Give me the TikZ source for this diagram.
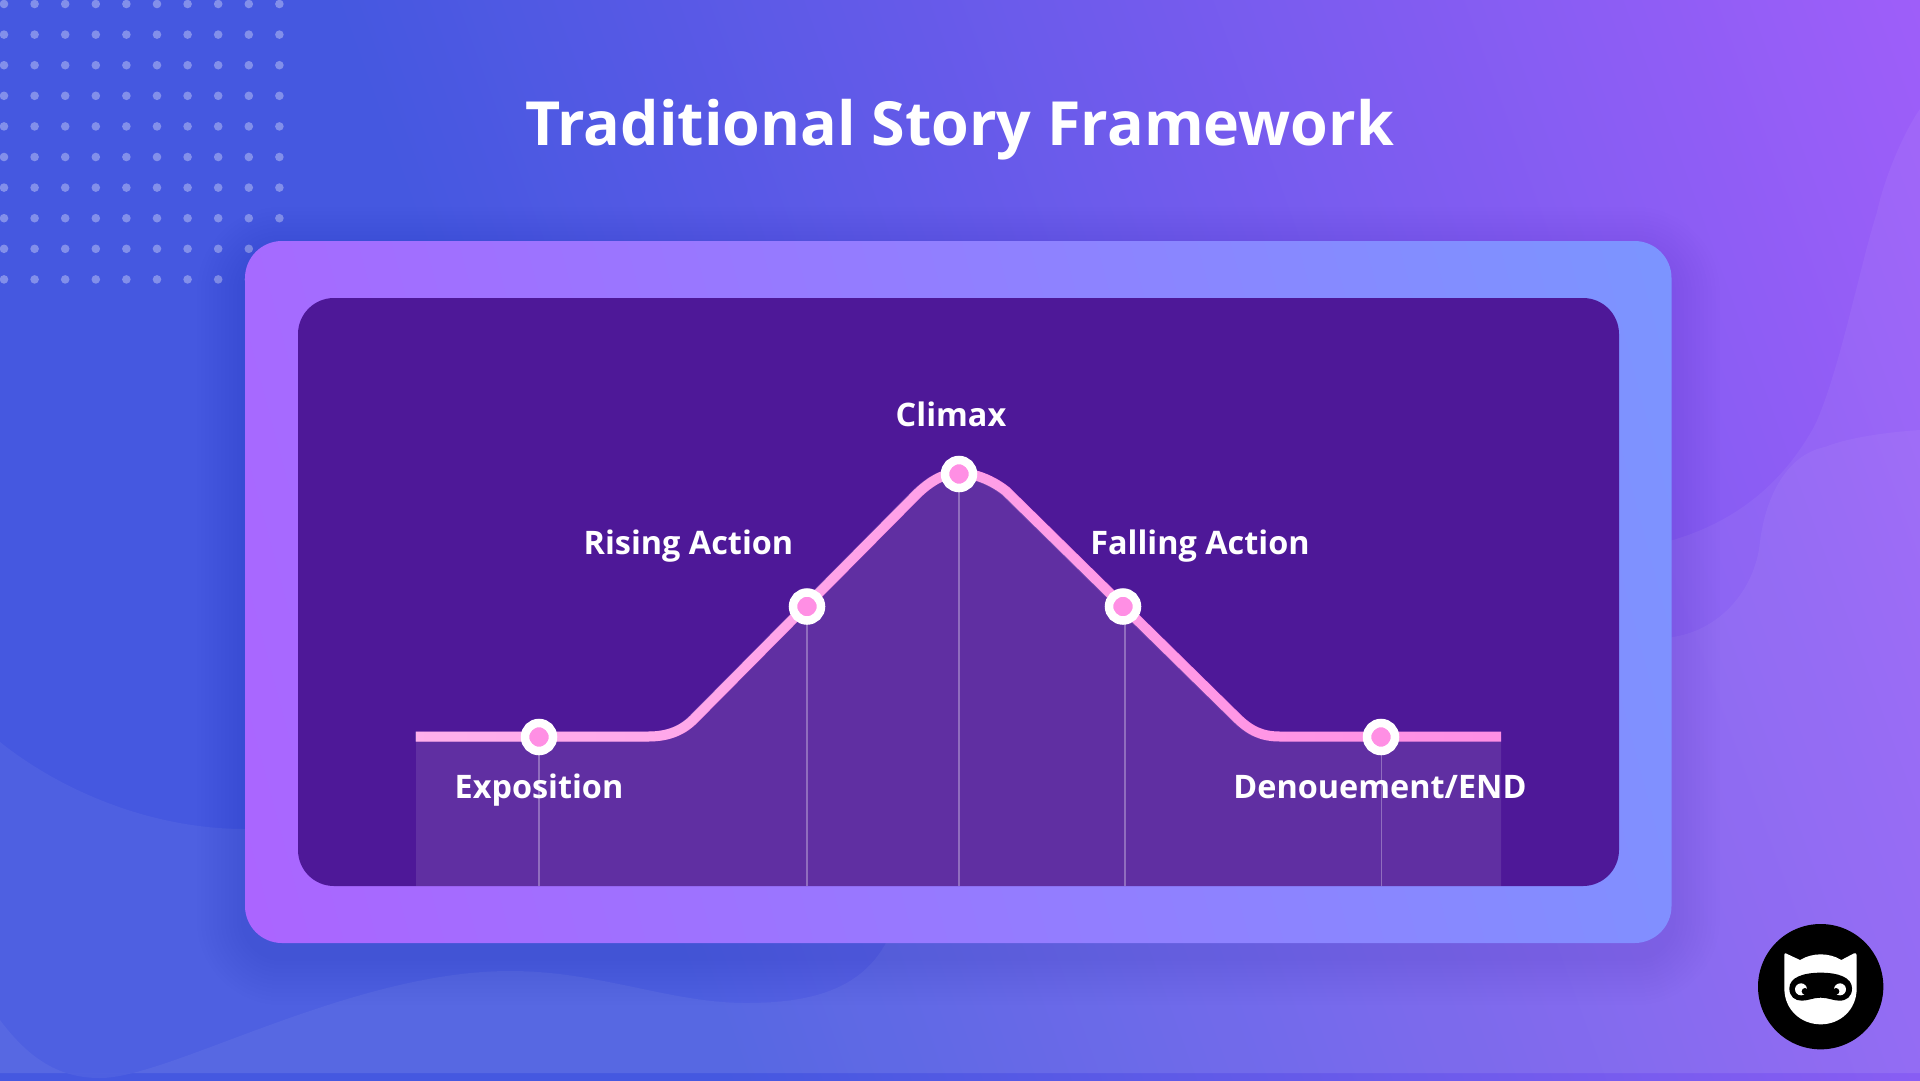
\documentclass[tikz,border=0pt]{standalone}
\usepackage{fontspec}
\setmainfont{Open Sans}
\usetikzlibrary{fadings}
\definecolor{bgA}{HTML}{4558E0}
\definecolor{bgB}{HTML}{A85FFC}
\definecolor{cardA}{HTML}{AE62FF}
\definecolor{cardB}{HTML}{7898FF}
\definecolor{inner}{HTML}{4E1898}
\definecolor{curvepink}{HTML}{FF8FE4}
\definecolor{shadowc}{HTML}{2A1E8C}
\pgfdeclarehorizontalshading{bgshade}{100bp}{color(0bp)=(bgA); color(38bp)=(bgA); color(87bp)=(bgB); color(100bp)=(bgB)}
\pgfdeclarehorizontalshading{cardshade}{100bp}{color(0bp)=(cardA); color(16bp)=(cardA); color(85bp)=(cardB); color(100bp)=(cardB)}
\tikzfading[name=leftlight, left color=transparent!70, right color=transparent!100]
\tikzset{
  x=1pt, y=-1pt,
  blob/.style={fill=white, fill opacity=.05},
  marker/.style={circle, draw=white, fill=curvepink, line width=8.5pt, minimum size=28pt, inner sep=0pt},
  drop/.style={draw=white, draw opacity=.3, line width=1.2pt},
  lbl/.style={text=white, font=\fontsize{32.4}{38}\selectfont\bfseries, inner sep=0pt},
  dot/.style={fill=white, fill opacity=.33},
  curveline/.style={line width=10pt, line join=round}
}
\newcommand{\curvepath}{(416,736.5) -- (648,736.5) .. controls (668,736.5) and (683,731) .. (696,717) -- (918,493) .. controls (935,477) and (948,473) .. (959,473) .. controls (970,473) and (988,477) .. (1006,491) -- (1236,717) .. controls (1250,731) and (1262,736.5) .. (1280,736.5) -- (1501,736.5)}
\begin{document}
\begin{tikzpicture}
\useasboundingbox (0,0) rectangle (1920,1080);
% background
\path[shading=bgshade, shading angle=20] (0,0) rectangle (1920,1080);
% blobs
\path[blob] (0,742) .. controls (60,790) and (150,829) .. (245,829) -- (1000,700) -- (1673,540) .. controls (1740,520) and (1785,480) .. (1815,425) .. controls (1840,370) and (1860,265) .. (1877,212) .. controls (1885,175) and (1905,130) .. (1920,109) -- (1920,1073) -- (0,1073) -- cycle;
\path[blob] (0,1020) .. controls (30,1060) and (60,1078) .. (100,1078) .. controls (170,1078) and (350,971) .. (510,971) .. controls (600,971) and (670,1003) .. (746,1003) .. controls (810,1003) and (860,990) .. (886,943) -- (1000,800) -- (1673,637) .. controls (1720,630) and (1755,590) .. (1760,542) .. controls (1765,500) and (1785,455) .. (1825,447) .. controls (1850,437) and (1890,432) .. (1920,430) -- (1920,1073) -- (0,1073) -- cycle;
% dots
\foreach \ix in {0,...,9}{\foreach \iy in {0,...,9}{
  \fill[dot] ({4+30.6*\ix},{4+30.6*\iy}) circle (4.3);
}}
% card shadow
\foreach \e in {4,8,...,48}{
  \fill[shadowc, fill opacity=.009, rounded corners={37+\e}] ({245-\e},{241-\e+14}) rectangle ({1671.5+\e},{943+\e+14});
}
% card
\path[shading=cardshade, shading angle=15, rounded corners=37pt] (245,241) rectangle (1671.5,943);
\fill[inner, rounded corners=36pt] (298,298) rectangle (1619,886);
% area under curve
\fill[white, fill opacity=.1] \curvepath -- (1501,886) -- (416,886) -- cycle;
% markers and labels
\coordinate (ebot) at (539,886);
\coordinate (rbot) at (807,886);
\coordinate (cbot) at (959,886);
\coordinate (ftop) at (1125,606);
\coordinate (fbot) at (1125,886);
\coordinate (dbot) at (1381.5,886);
\draw[drop] (539,737) -- (ebot);
\draw[drop] (807,606.5) -- (rbot);
\draw[drop] (959,474) -- (cbot);
\draw[drop] (ftop) -- (fbot);
\draw[drop] (1381.5,737) -- (dbot);
\draw[curveline, curvepink] \curvepath;
\draw[curveline, white, path fading=leftlight] \curvepath;
\node[marker] (expo) at (539,737) {};
\node[marker] (rise) at (807,606.5) {};
\node[marker] (clim) at (959,474) {};
\node[marker] (fall) at (1123,606.5) {};
\node[marker] (deno) at (1381,737) {};
\node[lbl] (lexpo) at (539,790) {Exposition};
\node[lbl] (lrise) at (688.5,546) {Rising Action};
\node[lbl] (lclim) at (951,414.5) {Climax};
\node[lbl] (lfall) at (1200,546) {Falling Action};
\node[lbl] (ldeno) at (1380,787) {Denouement/END};
% title
\node[text=white, font=\fontsize{60.9}{70}\selectfont\bfseries, inner sep=0pt] (title) at (959.5,129.5) {Traditional Story Framework};
% logo
\begin{scope}[shift={(1720,900)}, x=.33333pt, y=-.33333pt]
\fill[black] (302,260) circle (188);
\fill[white] (197,160) -- (240,180) .. controls (260,168) and (282,163) .. (302,163) .. controls (322,163) and (345,168) .. (364,180) -- (402,160) .. controls (407,158) and (410,161) .. (410,166) -- (410,265) .. controls (410,330) and (360,373) .. (302,373) .. controls (244,373) and (193,330) .. (193,265) -- (193,166) .. controls (193,161) and (194,159) .. (197,160) -- cycle;
\fill[black] (302,218) .. controls (250,218) and (208,232) .. (208,265) .. controls (208,290) and (225,302) .. (245,302) .. controls (265,302) and (280,293) .. (302,293) .. controls (324,293) and (340,302) .. (358,302) .. controls (380,302) and (396,290) .. (396,265) .. controls (396,232) and (354,218) .. (302,218) -- cycle;
\fill[white] (243,268) circle (18);
\fill[white] (360,268) circle (18);
\fill[black] (255,274) circle (10);
\fill[black] (348,274) circle (10);
\end{scope}
\end{tikzpicture}
\end{document}
